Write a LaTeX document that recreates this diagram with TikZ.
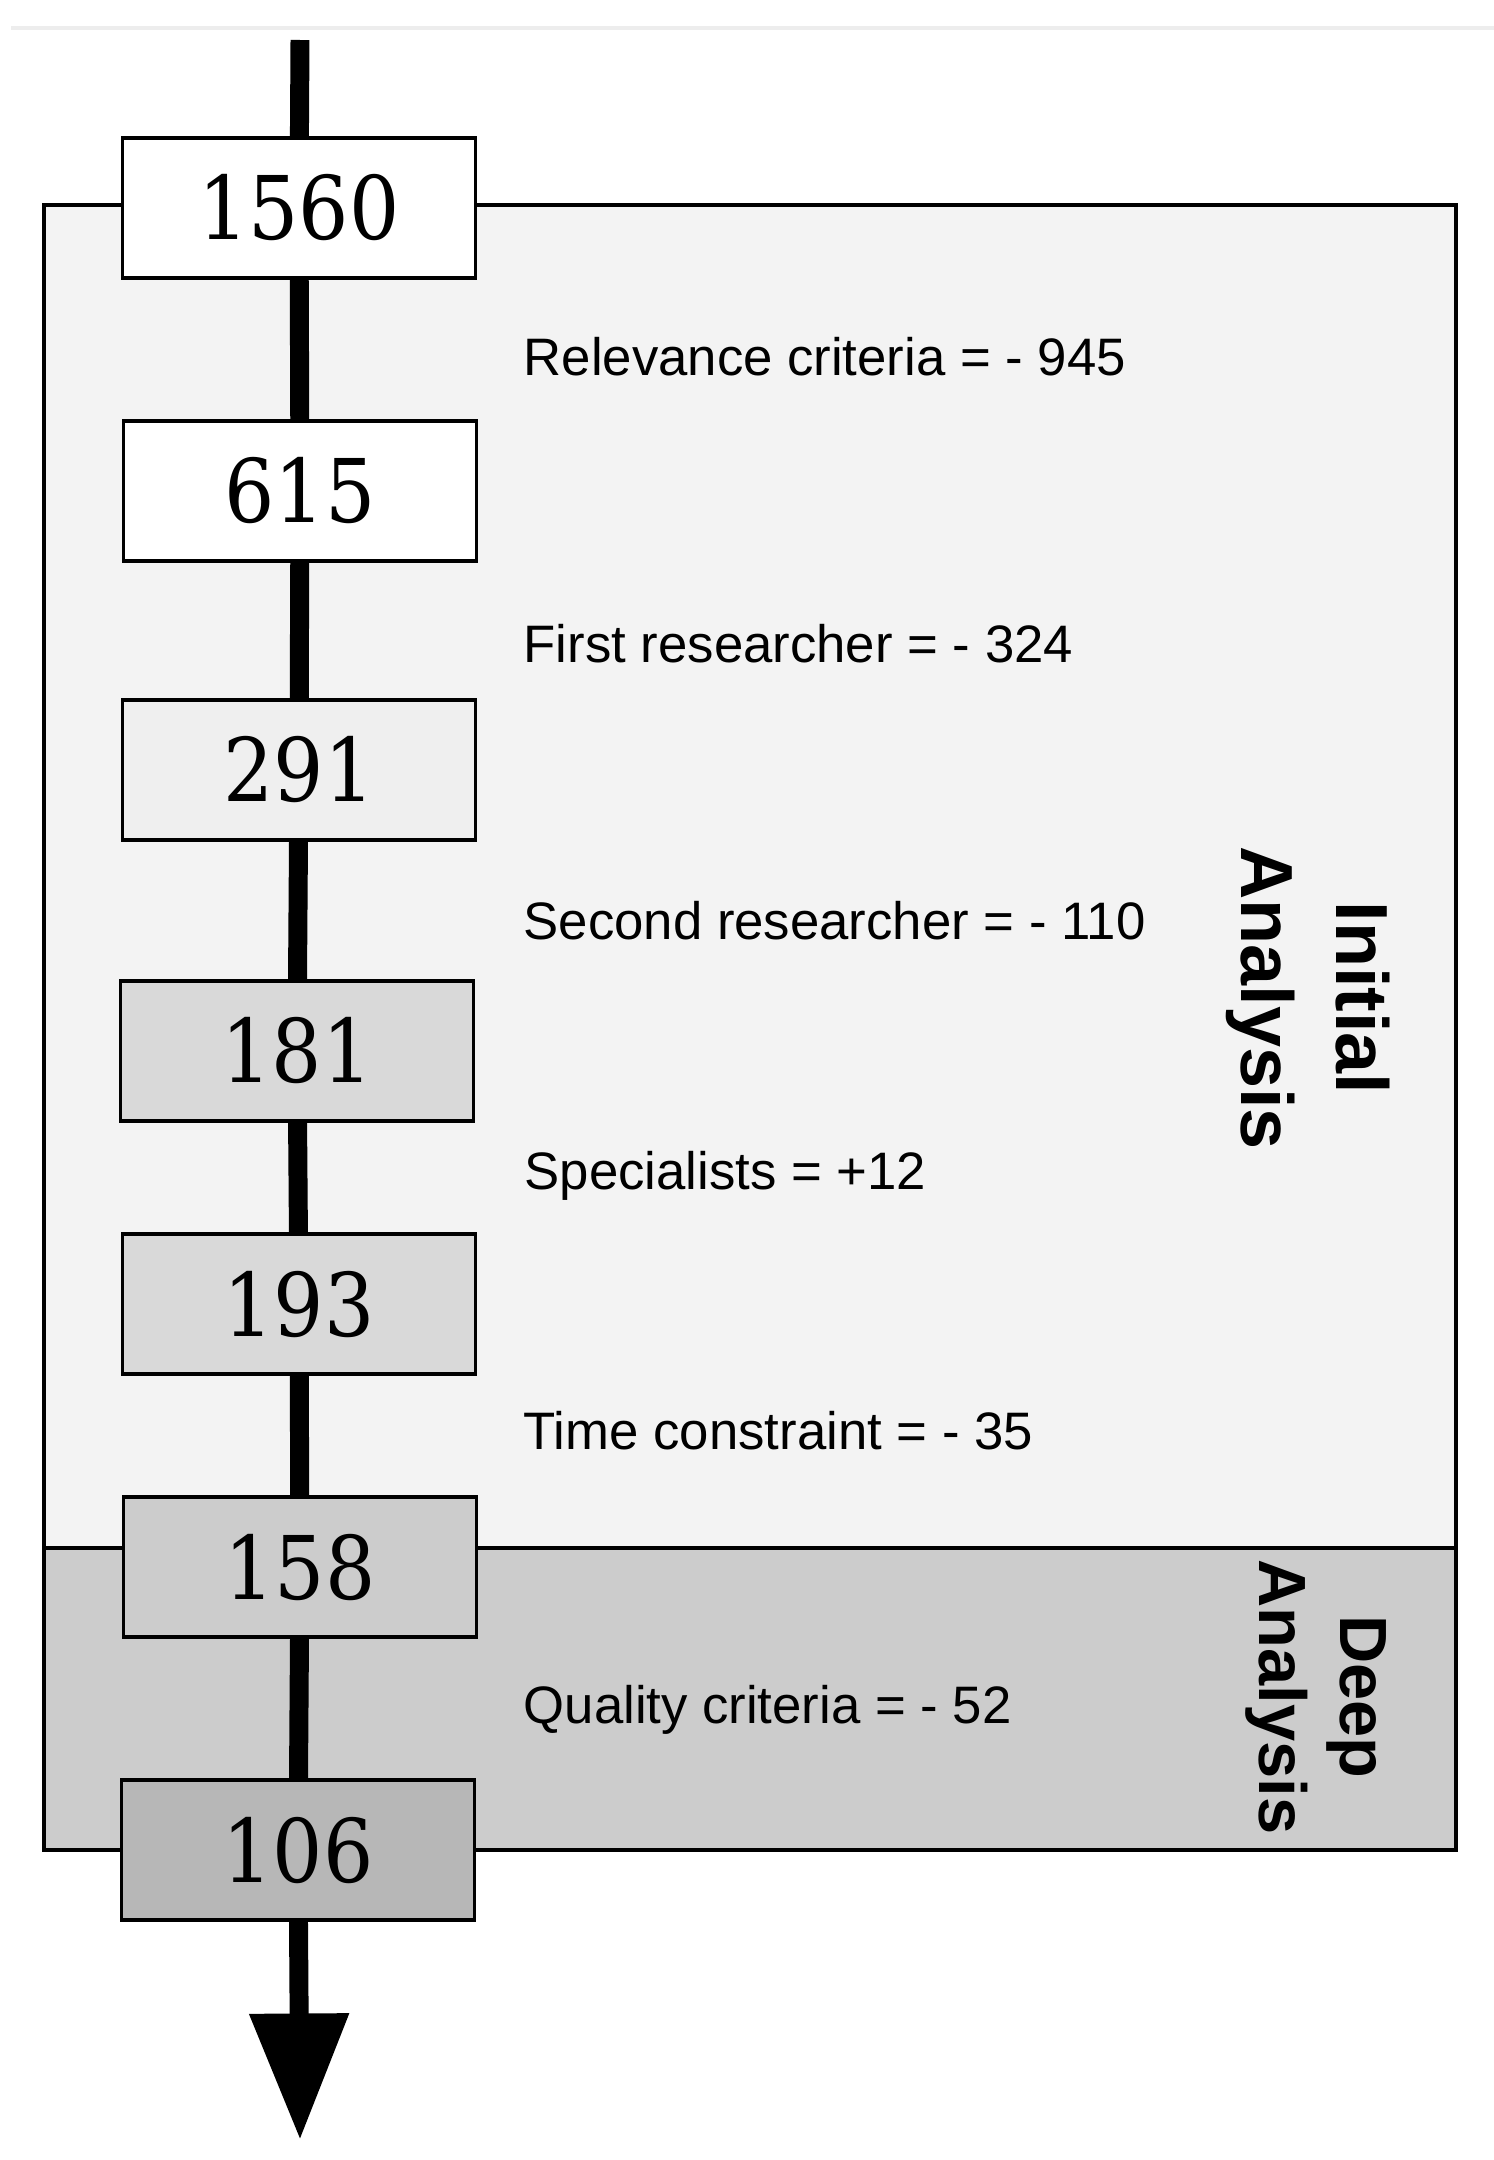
\documentclass[tikz,border=0pt]{standalone}
\usepackage{fontspec}
\usetikzlibrary{arrows.meta}
\newfontfamily\labelfont{Liberation Sans}
\newfontfamily\countfont[FakeStretch=0.9]{DejaVu Serif}
\newlength{\du}
\setlength{\du}{0.1mm}
\definecolor{initialcolor}{rgb}{0.952941, 0.952941, 0.952941}
\definecolor{deepcolor}{rgb}{0.800000, 0.800000, 0.800000}
\definecolor{lightboxcolor}{rgb}{0.937255, 0.937255, 0.937255}
\definecolor{midboxcolor}{rgb}{0.850980, 0.850980, 0.850980}
\definecolor{darkboxcolor}{rgb}{0.717647, 0.717647, 0.717647}
\tikzset{
  countbox/.style={draw=black, line width=1.1pt, minimum width=353\du, minimum height=140\du, inner sep=0pt, font=\countfont\fontsize{25}{30}\selectfont},
  steplabel/.style={anchor=west, inner sep=0pt, font=\labelfont\fontsize{15}{18}\selectfont},
  phaselabel/.style={rotate=-90, align=center, inner sep=0pt},
  flowline/.style={line width=5.4pt},
  phasebox/.style={draw=black, line width=1.1pt},
}
\begin{document}
\begin{tikzpicture}
\pgftransformxscale{1.000000}
\pgftransformyscale{-1.000000}
\useasboundingbox (0\du,0\du) rectangle (1494\du,2160\du);
\draw[color=black!7, line width=1pt] (11\du,28\du)--(1494\du,28\du);
% phases
\filldraw[phasebox, fill=initialcolor] (44\du,205\du) rectangle (1456\du,1548\du);
\filldraw[phasebox, fill=deepcolor] (44\du,1548\du) rectangle (1456\du,1850\du);
\node[phaselabel, font=\labelfont\bfseries\fontsize{21}{27}\selectfont] (initial) at (1308\du,998\du){Initial\\Analysis};
\node[phaselabel, font=\labelfont\bfseries\fontsize{19}{23}\selectfont] (deep) at (1316\du,1697\du){Deep\\Analysis};
% counts
\node[countbox, fill=white] (c1560) at (299\du,208\du){1560};
\node[countbox, fill=white] (c615) at (300\du,491\du){615};
\node[countbox, fill=lightboxcolor] (c291) at (299\du,770\du){291};
\node[countbox, fill=midboxcolor] (c181) at (297\du,1051\du){181};
\node[countbox, fill=midboxcolor] (c193) at (299\du,1304\du){193};
\node[countbox, fill=deepcolor] (c158) at (300\du,1567\du){158};
\node[countbox, fill=darkboxcolor] (c106) at (298\du,1850\du){106};
% flow
\coordinate (top) at (300\du,40\du);
\coordinate (bottom) at (300\du,2140\du);
\draw[flowline] (top)--(c1560);
\draw[flowline] (c1560)--(c615);
\draw[flowline] (c615)--(c291);
\draw[flowline] (c291)--(c181);
\draw[flowline] (c181)--(c193);
\draw[flowline] (c193)--(c158);
\draw[flowline] (c158)--(c106);
\draw[flowline, -{Triangle[length=36pt,width=27pt]}] (c106)--(bottom);
% setfont left to labelfont
\node[steplabel] (relevance) at (523\du,357\du){Relevance criteria = - 945};
\node[steplabel] (first) at (523\du,644\du){First researcher = - 324};
\node[steplabel] (second) at (523\du,921\du){Second researcher = - 110};
\node[steplabel] (specialists) at (524\du,1176\du){Specialists = +12};
\node[steplabel] (time) at (523\du,1431\du){Time constraint = - 35};
\node[steplabel] (quality) at (523\du,1710\du){Quality criteria = - 52};
\end{tikzpicture}
\end{document}
